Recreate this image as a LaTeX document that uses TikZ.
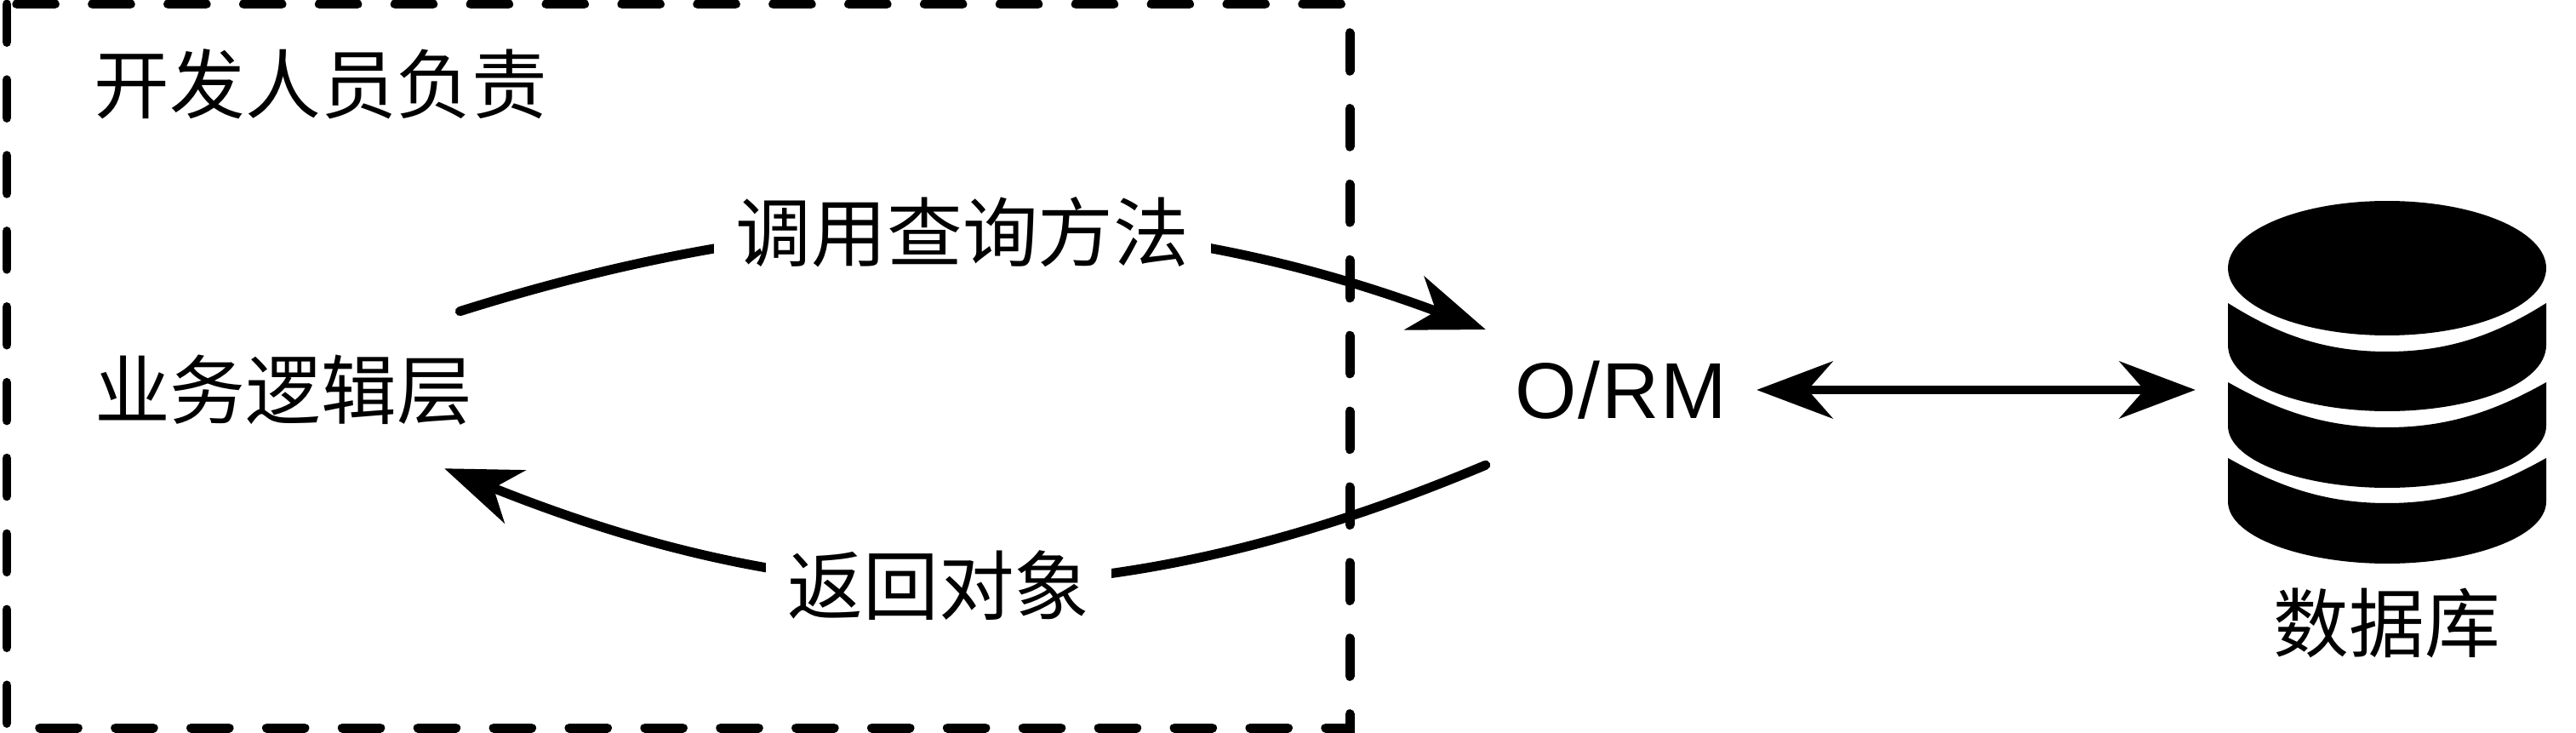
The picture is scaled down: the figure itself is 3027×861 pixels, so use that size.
\documentclass[tikz,border=0pt]{standalone}
\usepackage{fontspec}
\newfontfamily\cjk{Noto Sans CJK SC}
\setmainfont[LetterSpace=2]{Liberation Sans}
\usetikzlibrary{arrows.meta, positioning}

\begin{document}
\begin{tikzpicture}[
    x=0.02cm, y=-0.02cm,
    textnode/.style={inner sep=0pt, font=\cjk\fontsize{50.5}{60}\selectfont},
    edgelabel/.style={textnode, fill=white, inner xsep=0.52cm, inner ysep=0.1cm},
    layer/.style={textnode, minimum width=9cm, minimum height=3.68cm},
    mapper/.style={inner sep=0pt, minimum width=6.36cm, minimum height=3.68cm, font=\fontsize{53}{60}\selectfont},
    store/.style={inner sep=0pt, minimum width=7.48cm, minimum height=8.52cm},
    devbox/.style={line width=0.22cm, line cap=round, dash pattern=on 0.89cm off 0.888cm},
    arrow/.style={line width=0.22cm, line cap=round, -{Stealth[length=1.8cm, width=1.36cm, inset=0.56cm, line width=0pt]}},
    twoway/.style={line width=0.22cm, {Stealth[length=1.8cm, width=1.36cm, inset=0.6cm, line width=0pt]}-{Stealth[length=1.8cm, width=1.36cm, inset=0.6cm, line width=0pt]}}
]
\useasboundingbox (0,0) rectangle (3027,861);

\draw[devbox] (8,5) rectangle (1586,855);
\node[textnode] (owner) at (377,99) {开发人员负责};

\node[layer] (logic) at (333,458) {\raisebox{-0.08cm}{业务逻辑层}};
\node[mapper] (orm) at (1905,458) {O/RM};
\node[store] (db) at (2805,449) {};
\node[textnode, below=0.56cm of db] (dbname) {数据库};

% Icon
\fill (db.center |- 0,315) ellipse [x radius=3.74cm, y radius=1.58cm];
\foreach \ytop/\ymid/\yside/\ybot in {356/413/405/483, 449/502/500/573, 538/591/589/662} {
    \fill (2618,\ytop) .. controls (2680,\ymid-18) and (2735,\ymid) .. (2805,\ymid)
        .. controls (2875,\ymid) and (2930,\ymid-18) .. (2992,\ytop)
        -- (2992,\yside) .. controls (2992,\ybot-30) and (2900,\ybot) .. (2805,\ybot)
        .. controls (2710,\ybot) and (2618,\ybot-30) .. (2618,\yside) -- cycle;
}

% Calls
\draw[arrow] (logic.24.7) .. controls (965,232) and (1327,232) .. (orm.156.5);
\draw[arrow] (orm.209) .. controls (1309,730) and (965,727) .. (logic.-26.4);
\draw[twoway, shorten >=0.76cm] (orm) -- (orm -| db.west);

\node[edgelabel] (call) at (1131,273) {调用查询方法};
\node[edgelabel] (result) at (1103,688) {返回对象};

\end{tikzpicture}
\end{document}
